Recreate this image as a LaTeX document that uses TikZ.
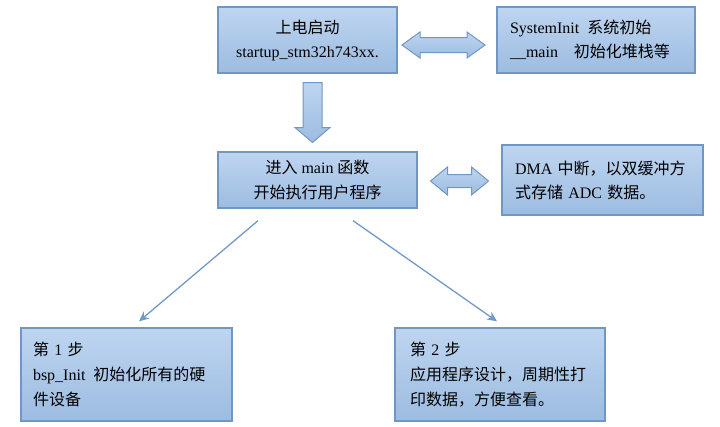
\documentclass[tikz,border=0pt]{standalone}
\usepackage{fontspec}
\usepackage{tikz}
\usetikzlibrary{arrows.meta,calc}
\setmainfont{Liberation Serif}
\newfontfamily\cjk{Noto Sans CJK SC}
\definecolor{boxtop}{RGB}{190,213,240}
\definecolor{boxbot}{RGB}{156,188,225}
\definecolor{boxedge}{RGB}{112,150,196}
\definecolor{linkblue}{RGB}{113,153,200}

\tikzset{
  blockbox/.style={draw=boxedge, line width=1.3pt, top color=boxtop, bottom color=boxbot,
    inner sep=0pt, font=\fontsize{16pt}{24pt}\selectfont},
  leftbox/.style={blockbox, align=left, inner xsep=13pt},
  fatpoly/.style={draw=boxedge, line width=1pt, line join=miter, top color=boxtop, bottom color=boxbot},
  thinarrow/.style={draw=linkblue, line width=1.3pt, -{Stealth[length=10pt,width=9pt]}}
}

% block double arrow: centre, half length, head length, half head, half shaft
\newcommand{\dblarrow}[5]{%
  \path[fatpoly] ($(#1)+(-#2,0)$) -- ++(#3,-#4) -- ++(0,#4-#5) -- ++(2*#2-2*#3,0)
    -- ++(0,#5-#4) -- ++(#3,#4) -- ++(-#3,#4) -- ++(0,#5-#4) -- ++(-2*#2+2*#3,0)
    -- ++(0,#4-#5) -- cycle;}

\begin{document}
\begin{tikzpicture}[x=1pt, y=-1pt]
    \useasboundingbox (0,0) rectangle (720,426);

    % power-on box
    \node[blockbox, align=center, minimum width=179pt, minimum height=66pt] (poweron) at (307.5,40) {
        {\cjk 上电启动}\\
        startup\_stm32h743xx.
    };

    % SystemInit box
    \node[leftbox, text width=172pt, minimum height=66pt] (sysinit) at (596,40) {
        SystemInit\hspace{8pt}{\cjk 系统初始}\\
        \_\_main\hspace{16pt}{\cjk 初始化堆栈等}
    };

    % main function box
    \node[blockbox, align=center, minimum width=199pt, minimum height=56pt] (mainfn) at (317.5,180) {
        {\cjk 进入} main {\cjk 函数}\\[1pt]
        {\cjk 开始执行用户程序}
    };

    % DMA box
    \node[leftbox, text width=175pt, minimum height=70pt] (dma) at (602.5,180) {
        DMA {\cjk 中断，以双缓冲方}\\
        {\cjk 式存储} ADC {\cjk 数据。}
    };

    % step 1
    \node[leftbox, inner xsep=12pt, text width=187pt, minimum height=93pt,
          font=\fontsize{16pt}{25pt}\selectfont] (step1) at (126.5,374.5) {
        {\cjk 第} 1 {\cjk 步}\\
        bsp\_Init\hspace{8pt}{\cjk 初始化所有的硬}\\
        {\cjk 件设备}
    };

    % step 2
    \node[leftbox, inner xsep=15pt, text width=180pt, minimum height=93pt,
          font=\fontsize{16pt}{25pt}\selectfont] (step2) at (500,374.5) {
        {\cjk 第} 2 {\cjk 步}\\
        {\cjk 应用程序设计，周期性打}\\
        {\cjk 印数据，方便查看。}
    };

    % block arrows
    \coordinate (linkA) at ($(poweron.east)!.5!(sysinit.west)+(-3.5,5)$);
    \coordinate (godown) at ($(poweron.south)!.5!(mainfn.north)$);
    \coordinate (linkB) at ($(mainfn.east)!.5!(dma.west)+(0,1)$);
    \dblarrow{linkA}{41.5}{18}{13}{7.5}
    \dblarrow{linkB}{29}{17}{14}{6.5}
    \path[fatpoly] ($(godown)+(-9.5,-30)$) -- ++(19,0) -- ++(0,45) -- ++(8,0)
        -- ++(-17.5,15) -- ++(-17.5,-15) -- ++(8,0) -- cycle;

    % branch lines
    \draw[thinarrow] ([xshift=-59.5pt,yshift=-12pt]mainfn.south) -- ([xshift=12.5pt,yshift=6pt]step1.north);
    \draw[thinarrow] ([xshift=35.5pt,yshift=-12pt]mainfn.south) -- ([xshift=-3pt,yshift=6pt]step2.north);
\end{tikzpicture}
\end{document}
